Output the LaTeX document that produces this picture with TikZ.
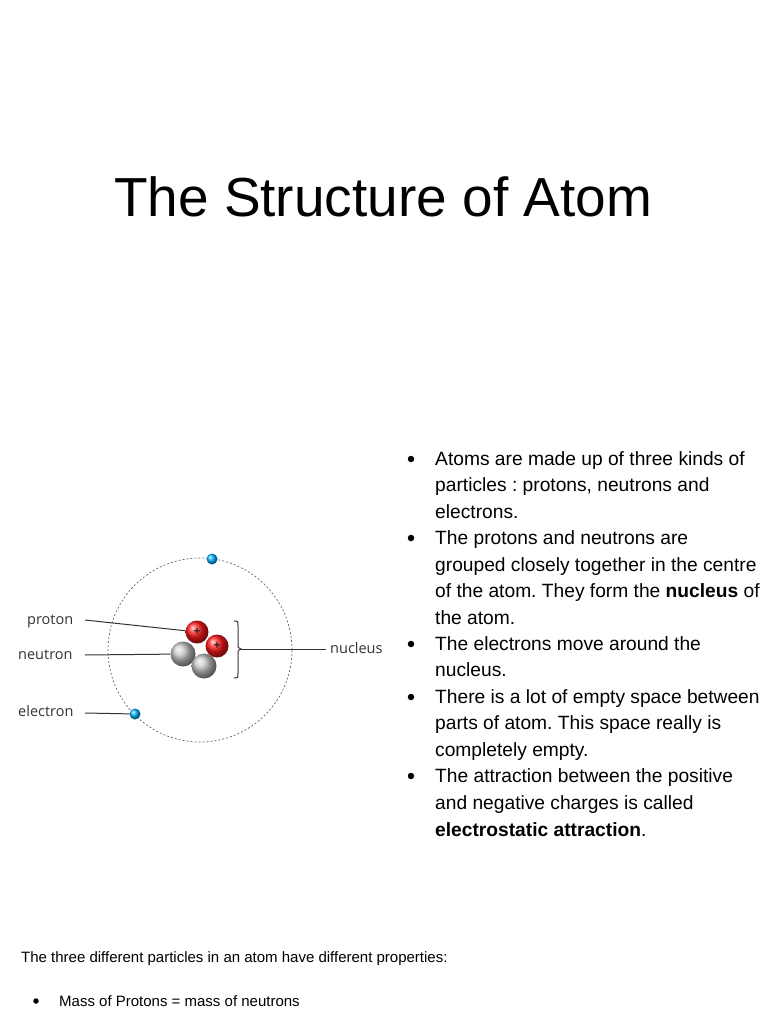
\documentclass[tikz,border=0pt]{standalone}
\usepackage{fontspec}
\setmainfont{Liberation Sans}
\newfontfamily\lab{Open Sans}
\frenchspacing
\begin{document}
\begin{tikzpicture}[x=1pt,y=-1pt,
  bul/.style={anchor=base west,font=\fontsize{19.2}{26}\selectfont,inner sep=0},
  dot/.style={circle,fill=black,inner sep=0,minimum size=6.5pt},
  lbl/.style={anchor=base west,font=\lab\fontsize{14.5}{16}\selectfont,text=black!80,inner sep=0},
  ln/.style={draw=black!80,line width=1pt},
  prot/.style={circle,inner sep=0,minimum size=23pt,ball color=red!90!white,draw=none},
  plus/.style={font=\lab\bfseries\fontsize{12}{12}\selectfont,text=black!85,inner sep=0},
  neut/.style={circle,inner sep=0,minimum size=25pt,ball color=gray!45,draw=none},
  elec/.style={circle,inner sep=0,minimum size=11pt,ball color=cyan!70!blue,draw=none}]
\useasboundingbox (0,0) rectangle (768,1024);
\fill[white] (0,0) rectangle (768,1024);
\node[font=\fontsize{55}{60}\selectfont,inner sep=0] (title) at (383,197) {The Structure of Atom};
% bullets
\foreach \y/\t in {459/{Atoms are made up of three kinds of},485/{particles : protons, neutrons and},512/{electrons.},
538/{The protons and neutrons are},565/{grouped closely together in the centre},591/{of the atom. They form the \textbf{nucleus} of},618/{the atom.},
644/{The electrons move around the},670/{nucleus.},697/{There is a lot of empty space between},723/{parts of atom. This space really is},750/{completely empty.},
776/{The attraction between the positive},803/{and negative charges is called},830/{\textbf{electrostatic attraction}.}}
  \node[bul] at (435,\y+6) {\t};
\foreach \y in {459,538,644,697,776} \node[dot] at (411,\y) {};
% bottom
\node[anchor=base west,font=\fontsize{15}{16}\selectfont,inner sep=0] (intro) at (21,962) {The three different particles in an atom have different properties:};
\node[dot,minimum size=5.5pt] (b1) at (36,1001) {};
\node[anchor=base west,font=\fontsize{15}{16}\selectfont,inner sep=0] (m1) at (59,1006) {Mass of Protons = mass of neutrons};
% atom
\draw[draw=black!60,line width=0.7pt,dash pattern=on 2pt off 2pt] (200,650) ellipse (92 and 92);
\node[neut] (n1) at (183,654) {};
\node[prot] (p1) at (197,632) {};
\node[plus] (pp1) at (197,632) {+};
\node[neut] (n2) at (204,666) {};
\node[prot] (p2) at (217,646) {};
\node[plus] (pp2) at (217,646) {+};
\node[elec] (e1) at (212,559) {};
\node[elec] (e2) at (135,714) {};
\draw[ln] (234,621) .. controls (238,621) .. (238,626) -- (238,643) .. controls (238,648) .. (241,649) .. controls (238,650) .. (238,655) -- (238,673) .. controls (238,678) .. (234,678);
\coordinate (br) at (241,649);
\node[lbl] (lnuc) at (330,653) {nucleus};
\draw[ln] (br) -- ([xshift=-4pt]lnuc.west |- br);
\node[lbl] (lp) at (27,624) {proton};
\node[lbl] (lnn) at (18,659) {neutron};
\node[lbl] (le) at (18,716) {electron};
\draw[ln] (85,620) -- (p1);
\draw[ln] (85,655) -- (n1);
\draw[ln] (85,713) -- (e2);
\end{tikzpicture}
\end{document}
